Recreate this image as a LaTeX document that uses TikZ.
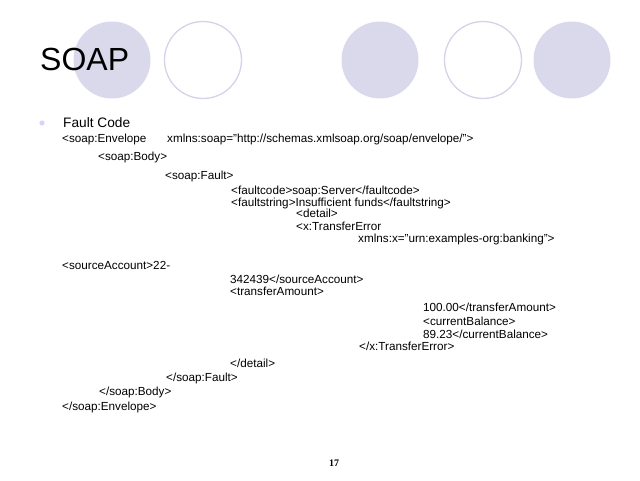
\documentclass[tikz,border=0pt]{standalone}
\usepackage{fontspec}
\setmainfont{Liberation Sans}
\newfontfamily\numfont{Liberation Serif}
\begin{document}
\begin{tikzpicture}[x=1pt,y=-1pt]
    % colours of the slide
    \definecolor{lav}{HTML}{D9D9EB}
    \definecolor{lavline}{HTML}{D3D3EA}
    % radius of each circle
    \def\rad{38.5}
    % style definitions
    \tikzstyle{ball} = [fill=lav, draw=none];
    \tikzstyle{ring} = [draw=lavline, line width=1.3pt, fill=none];
    \tikzstyle{xml} = [anchor=base west, inner sep=0pt,
    	font=\fontsize{11.7}{13}\selectfont];
    \useasboundingbox (0,0) rectangle (640,480);
    % circles along the top
    \foreach \cx in {112,380,572}
    	\draw[ball] (\cx,60) circle (\rad);
    \foreach \cx in {203,483}
    	\draw[ring] (\cx,60) circle (\rad);
    \node[anchor=base west, inner sep=0pt,
    	font=\fontsize{32}{36}\selectfont] (title) at (40,70) {SOAP};
    % bullet point
    \fill[lav!85!blue!60] (42,123) circle (2.6);
    \node[anchor=base west, inner sep=0pt,
    	font=\fontsize{13.7}{16}\selectfont] (fault) at (63,127) {Fault Code};
    % the xml lines
    \node[xml] (env) at (62,142)
    	{\makebox[105pt][l]{<soap:Envelope}xmlns:soap="http://schemas.xmlsoap.org/soap/envelope/">};
    \node[xml] (body) at (98,160) {<soap:Body>};
    \node[xml] (flt) at (165,179) {<soap:Fault>};
    \node[xml] (fcode) at (231,194.5) {<faultcode>soap:Server</faultcode>};
    \node[xml] (fstr) at (231,206) {<faultstring>Insufficient funds</faultstring>};
    \node[xml] (det) at (296,217.5) {<detail>};
    \node[xml] (terr) at (296,230.5) {<x:TransferError};
    \node[xml] (ns) at (358,242) {xmlns:x="urn:examples-org:banking">};
    \node[xml] (src) at (62,269.5) {<sourceAccount>22-};
    \node[xml] (acc) at (230,283.5) {342439</sourceAccount>};
    \node[xml] (amt) at (230,295) {<transferAmount>};
    \node[xml] (val) at (423,311) {100.00</transferAmount>};
    \node[xml] (bal) at (423,325) {<currentBalance>};
    \node[xml] (bval) at (423,338.5) {89.23</currentBalance>};
    \node[xml] (terrend) at (359,350) {</x:TransferError>};
    \node[xml] (detend) at (230,367) {</detail>};
    \node[xml] (fltend) at (166,381.5) {</soap:Fault>};
    \node[xml] (bodyend) at (99,395) {</soap:Body>};
    \node[xml] (envend) at (62,410) {</soap:Envelope>};
    % page number
    \node[anchor=base, inner sep=0pt,
    	font=\numfont\bfseries\fontsize{10}{12}\selectfont] (page) at (334,466) {17};
\end{tikzpicture}
\end{document}
